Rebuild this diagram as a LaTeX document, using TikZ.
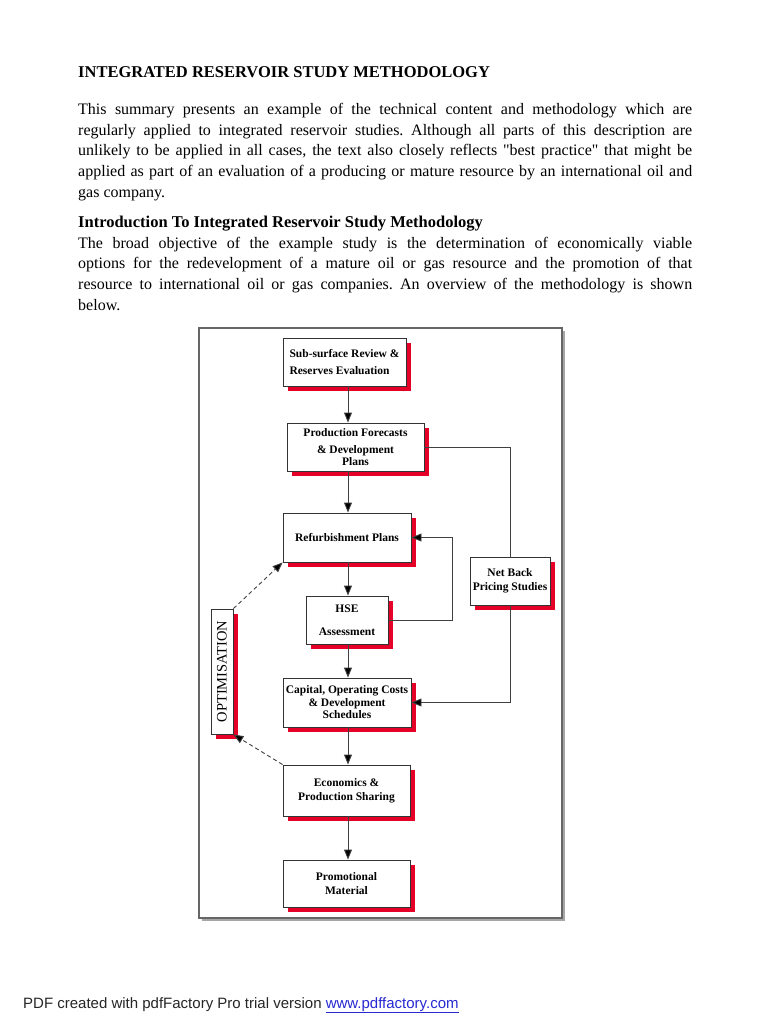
\documentclass[tikz,border=0pt]{standalone}
\usepackage{fontspec}
\setmainfont{Liberation Serif}
\newfontfamily\footfont{Liberation Sans}
\newfontfamily\quotefont{Liberation Serif}[Ligatures=TeXOff]
\usetikzlibrary{arrows.meta,shadows}
\definecolor{shred}{RGB}{228,0,38}
\definecolor{linkblue}{RGB}{40,40,210}
\newcommand{\jline}[1]{\makebox[614pt][s]{#1}}
\newcommand{\sq}{{\quotefont"}}
\frenchspacing
\begin{document}
\begin{tikzpicture}[x=1pt,y=-1pt,
  body/.style={anchor=base west,inner sep=0pt,font=\fontsize{16}{20}\selectfont},
  hd/.style={anchor=base west,inner sep=0pt,font=\fontsize{16.5}{20}\selectfont\bfseries},
  flow/.style={draw=black!80,line width=0.9pt,fill=white,
    font=\fontsize{11.5}{14}\selectfont\bfseries,align=center,inner sep=0pt,
    drop shadow={shadow xshift=5pt,shadow yshift=-5pt,fill=shred,opacity=1}},
  conn/.style={draw=black!75,line width=0.9pt},
  arr/.style={conn,-{Triangle[length=10pt,width=8pt,fill=black]}},
  dasharr/.style={arr,dash pattern=on 4pt off 3pt}
]
\useasboundingbox[fill=white] (0,0) rectangle (768,1024);

% text
\node[hd] (title) at (78,78) {INTEGRATED RESERVOIR STUDY METHODOLOGY};
\node[body] (p1) at (78,115) {\jline{This summary presents an example of the technical content and methodology which are}};
\node[body] (p2) at (78,136) {\jline{regularly applied to integrated reservoir studies. Although all parts of this description are}};
\node[body] (p3) at (78,156) {\jline{unlikely to be applied in all cases, the text also closely reflects \sq best practice\sq{} that might be}};
\node[body] (p4) at (78,177) {\jline{applied as part of an evaluation of a producing or mature resource by an international oil and}};
\node[body] (p5) at (78,198) {gas company.};
\node[hd] (intro) at (78,227) {Introduction To Integrated Reservoir Study Methodology};
\node[body] (q1) at (78,248) {\jline{The broad objective of the example study is the determination of economically viable}};
\node[body] (q2) at (78,268) {\jline{options for the redevelopment of a mature oil or gas resource and the promotion of that}};
\node[body] (q3) at (78,289) {\jline{resource to international oil or gas companies. An overview of the methodology is shown}};
\node[body] (q4) at (78,310) {below.};

% frame
\node[draw=black!60,line width=1.2pt,fill=white,minimum width=363pt,minimum height=590pt,inner sep=0pt,
  drop shadow={shadow xshift=2.5pt,shadow yshift=-2.5pt,fill=black!35,opacity=1}] (frame) at (380.5,623) {};

\coordinate (spine) at (348,0);

% boxes
\node[flow,minimum width=123pt,minimum height=48pt,align=left] (b1) at (344.5,362) {Sub-surface Review \&\\[3pt]Reserves Evaluation};
\node[flow,minimum width=137pt,minimum height=48pt,font=\fontsize{11.5}{12}\selectfont\bfseries] (b2) at (355.5,447) {Production Forecasts\\[5pt]\& Development\\Plans};
\node[flow,minimum width=128pt,minimum height=49pt] (b3) at (347,537.5) {Refurbishment Plans};
\node[flow,minimum width=82pt,minimum height=48pt] (hse) at (347,620) {HSE\\[9pt]Assessment};
\node[flow,minimum width=128pt,minimum height=49pt,font=\fontsize{11.5}{12.5}\selectfont\bfseries] (cap) at (347,702.5) {Capital, Operating Costs\\\& Development\\Schedules};
\node[flow,minimum width=127pt,minimum height=51pt] (econ) at (346.5,790.5) {Economics \&\\Production Sharing};
\node[flow,minimum width=127pt,minimum height=47pt] (promo) at (346.5,883.5) {Promotional\\Material};
\node[flow,minimum width=80pt,minimum height=48pt] (nb) at (510,581) {Net Back\\Pricing Studies};
\node[flow,minimum width=22pt,minimum height=125pt,font=\fontsize{14.5}{16}\selectfont] (opt) at (222,671.5) {\rotatebox{90}{OPTIMISATION}};

% connectors
\draw[arr] (b1.south -| spine) -- (b2.north -| spine);
\draw[arr] (b2.south -| spine) -- (b3.north -| spine);
\draw[arr] (b3.south -| spine) -- (hse.north -| spine);
\draw[arr] (hse.south -| spine) -- (cap.north -| spine);
\draw[arr] (cap.south -| spine) -- (econ.north -| spine);
\draw[arr] (econ.south -| spine) -- (promo.north -| spine);
\draw[conn] (b2.east) -| (nb.north);
\draw[arr] (nb.south) |- (cap.east);
\draw[arr] (hse.east) -- ++(64,0) |- (b3.east);
\draw[dasharr] (opt.north east) -- (b3.south west);
\draw[dasharr] (econ.north west) -- (opt.south east);

% footer
\node[anchor=base west,inner sep=0pt,text=black!85,font=\footfont\fontsize{15}{18}\selectfont] (foot) at (23,1008)
  {PDF created with pdfFactory Pro trial version \textcolor{linkblue}{\underline{www.pdffactory.com}}};
\end{tikzpicture}
\end{document}
